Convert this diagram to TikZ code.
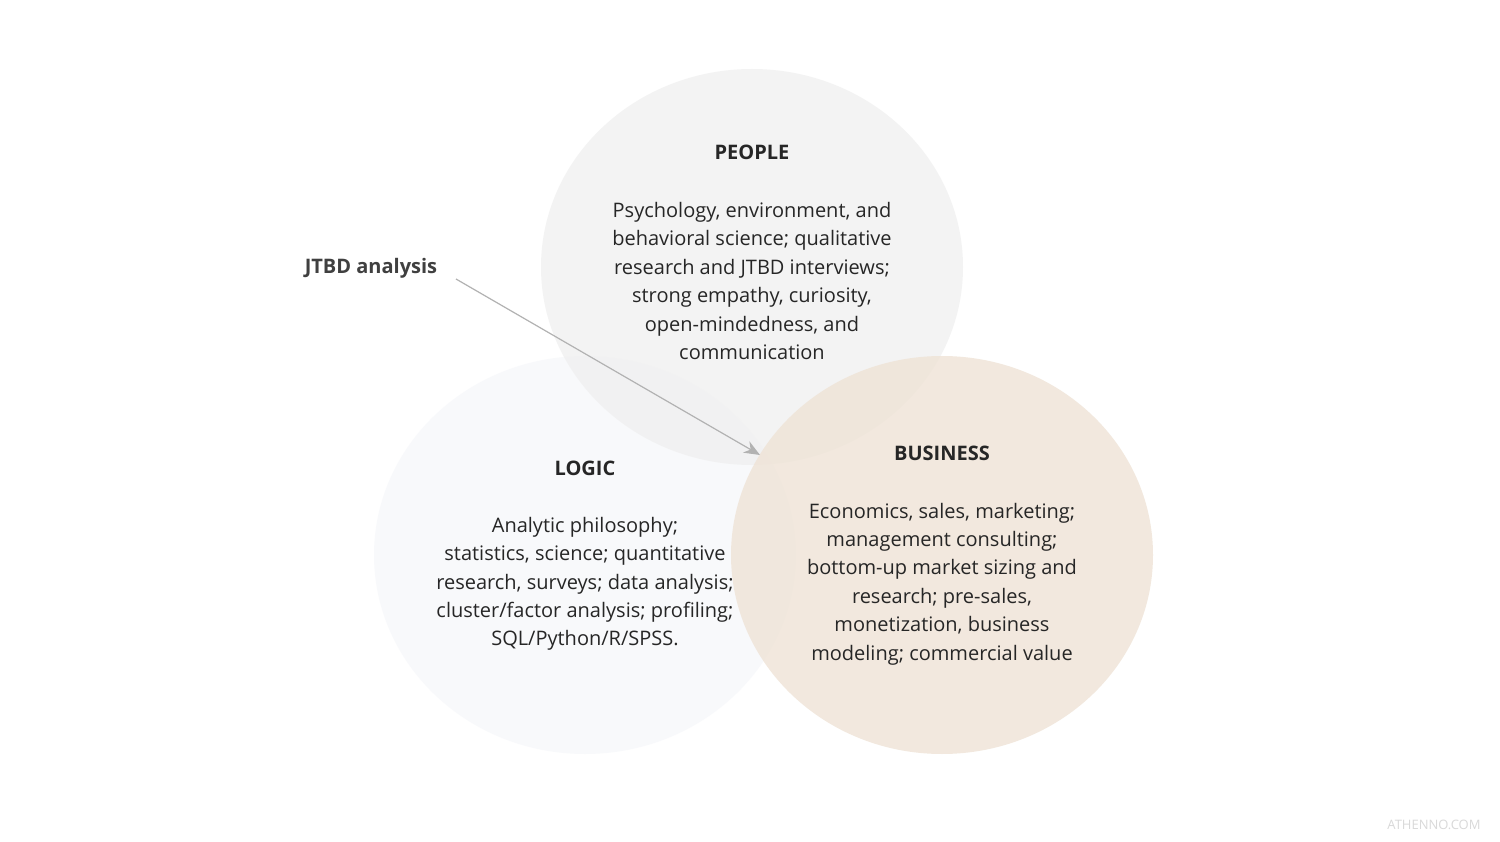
\documentclass[tikz,border=0pt]{standalone}
\usepackage{fontspec}
\setmainfont{Open Sans}
\usetikzlibrary{arrows.meta}
\begin{document}
\begin{tikzpicture}[x=1pt,y=-1pt,
  circ/.style={draw=none,fill opacity=0.8},
  ttl/.style={font=\fontsize{20}{24}\selectfont\bfseries,text=black!85},
  body/.style={font=\fontsize{20}{28.4}\selectfont,text=black!85,align=center}]
\useasboundingbox[fill=white] (0,0) rectangle (1500,842);
\definecolor{cp}{HTML}{F0F0F0}
\definecolor{cl}{HTML}{F7F8FB}
\definecolor{cb}{HTML}{EFE3D6}
\fill[cl,circ] (585,555) ellipse [x radius=211,y radius=199];
\fill[cp,circ] (752,267) ellipse [x radius=211,y radius=198];
\fill[cb,circ] (942,555) ellipse [x radius=211,y radius=199];
\node[ttl] (tp) at (752,152) {PEOPLE};
\node[body] (bp) at (752,281) {Psychology, environment, and\\behavioral science; qualitative\\research and JTBD interviews;\\strong empathy, curiosity,\\open-mindedness, and\\communication};
\node[ttl] (tl) at (585,468) {LOGIC};
\node[body] (bl) at (585,584) {Analytic philosophy;\\statistics, science; quantitative\\research, surveys; data analysis;\\cluster/factor analysis; profiling;\\SQL/Python/R/SPSS.};
\node[ttl] (tb) at (942,453) {BUSINESS};
\node[body] (bb) at (942,584) {Economics, sales, marketing;\\management consulting;\\bottom-up market sizing and\\research; pre-sales,\\monetization, business\\modeling; commercial value};
\node[ttl,text=black!75] (j) at (371,268) {JTBD analysis};
\coordinate (js) at (456,279);
\coordinate (je) at (760,455);
\draw[black!30,line width=1.2pt,-{Stealth[length=16pt,width=13pt]}] (js) -- (je);
\node[font=\fontsize{13}{15}\selectfont,text=black!15] (w) at (1434,825) {ATHENNO.COM};
\end{tikzpicture}
\end{document}
